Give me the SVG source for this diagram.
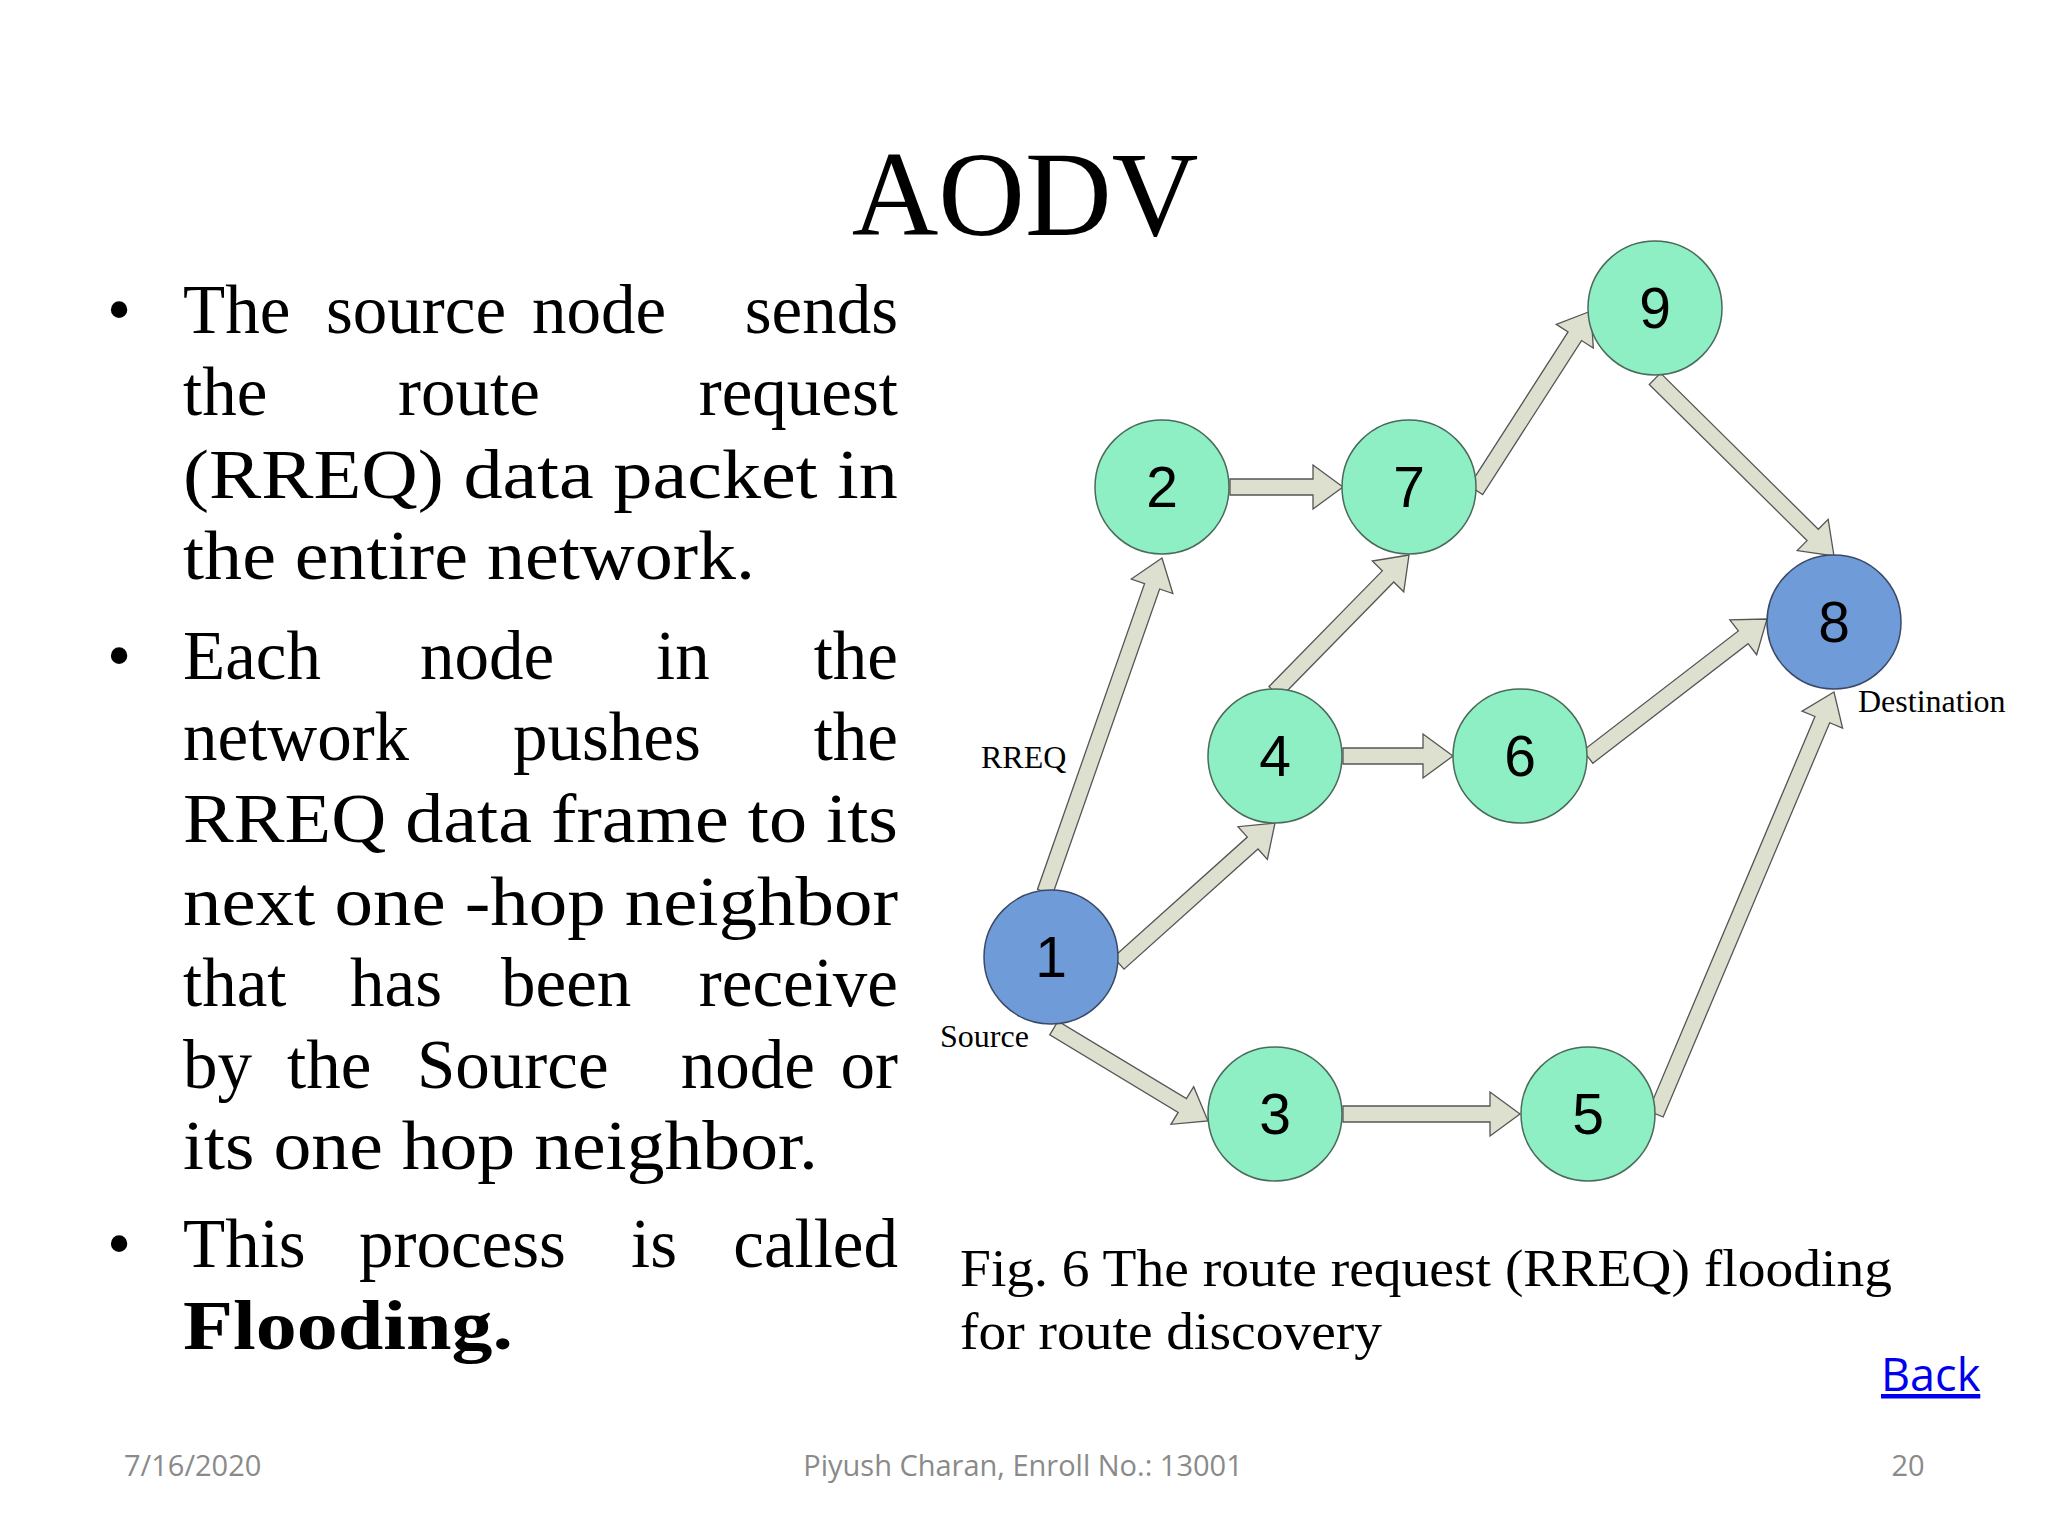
<svg xmlns="http://www.w3.org/2000/svg" width="2048" height="1536" viewBox="0 0 2048 1536">
<defs>
<style>
.s{font-family:"Liberation Serif",serif;fill:#000}
.b{font-size:69px}
.e{text-anchor:end}
.n{font-family:"Liberation Sans",sans-serif;font-size:57px;text-anchor:middle;fill:#000}
.g{fill:#8EEEC4;stroke:#4a6a5a;stroke-width:1.5}
.u{fill:#6F9BD9;stroke:#3a4a66;stroke-width:1.5}
.a{fill:#DDDFCF;stroke:#555;stroke-width:1.3}
.f{font-family:"Open Sans","Liberation Sans",sans-serif;font-size:29px;fill:#8a8a8a}
</style>
</defs>
<rect width="2048" height="1536" fill="#fff"/>
<text class="s" x="1025" y="235" font-size="120" text-anchor="middle">AODV</text>
<g class="s b">
<text x="107" y="333">•</text><text x="107" y="679">•</text><text x="107" y="1267">•</text>
<text x="183" y="333">The</text><text x="326" y="333">source</text><text x="532" y="333">node</text><text class="e" x="898" y="333">sends</text>
<text x="183" y="415">the</text><text x="398" y="415">route</text><text class="e" x="898" y="415">request</text>
<text x="183" y="498" textLength="715" lengthAdjust="spacingAndGlyphs">(RREQ) data packet in</text>
<text x="183" y="579" textLength="572" lengthAdjust="spacingAndGlyphs">the entire network.</text>
<text x="183" y="679">Each</text><text x="420" y="679">node</text><text x="656" y="679">in</text><text class="e" x="898" y="679">the</text>
<text x="183" y="760">network</text><text x="513" y="760">pushes</text><text class="e" x="898" y="760">the</text>
<text x="183" y="842" textLength="715" lengthAdjust="spacingAndGlyphs">RREQ data frame to its</text>
<text x="183" y="925" textLength="715" lengthAdjust="spacingAndGlyphs">next one -hop neighbor</text>
<text x="183" y="1006">that</text><text x="350" y="1006">has</text><text x="501" y="1006">been</text><text class="e" x="898" y="1006">receive</text>
<text x="183" y="1088">by</text><text x="287" y="1088">the</text><text x="417" y="1088">Source</text><text class="e" x="815" y="1088">node</text><text class="e" x="898" y="1088">or</text>
<text x="183" y="1169" textLength="635" lengthAdjust="spacingAndGlyphs">its one hop neighbor.</text>
<text x="183" y="1267">This</text><text x="359" y="1267">process</text><text x="631" y="1267">is</text><text class="e" x="898" y="1267">called</text>
<text x="183" y="1349" font-weight="bold" textLength="330" lengthAdjust="spacingAndGlyphs">Flooding.</text>
</g>
<g id="connectors">
<g transform="translate(1162,558) rotate(-70.7)"><polygon class="a" points="0,0 -30,-22 -30,-8 -354,-8 -354,8 -30,8 -30,22"/></g>
<g transform="translate(1343,487)"><polygon class="a" points="0,0 -30,-22 -30,-8 -113,-8 -113,8 -30,8 -30,22"/></g>
<g transform="translate(1275,823) rotate(-41.9)"><polygon class="a" points="0,0 -30,-22 -30,-8 -210,-8 -210,8 -30,8 -30,22"/></g>
<g transform="translate(1409,555) rotate(-45.6)"><polygon class="a" points="0,0 -30,-22 -30,-8 -192,-8 -192,8 -30,8 -30,22"/></g>
<g transform="translate(1453,756)"><polygon class="a" points="0,0 -30,-22 -30,-8 -110,-8 -110,8 -30,8 -30,22"/></g>
<g transform="translate(1591,311) rotate(-57.3)"><polygon class="a" points="0,0 -30,-22 -30,-8 -213,-8 -213,8 -30,8 -30,22"/></g>
<g transform="translate(1834,556) rotate(44.7)"><polygon class="a" points="0,0 -30,-22 -30,-8 -252,-8 -252,8 -30,8 -30,22"/></g>
<g transform="translate(1767,619) rotate(-37.6)"><polygon class="a" points="0,0 -30,-22 -30,-8 -226,-8 -226,8 -30,8 -30,22"/></g>
<g transform="translate(1208,1121) rotate(31.1)"><polygon class="a" points="0,0 -30,-22 -30,-8 -180,-8 -180,8 -30,8 -30,22"/></g>
<g transform="translate(1520,1114)"><polygon class="a" points="0,0 -30,-22 -30,-8 -177,-8 -177,8 -30,8 -30,22"/></g>
<g transform="translate(1834,692) rotate(-67.1)"><polygon class="a" points="0,0 -30,-22 -30,-8 -458,-8 -458,8 -30,8 -30,22"/></g>
</g>
<g id="n1"><circle class="u" cx="1051" cy="957" r="67"/><text class="n" x="1051" y="977">1</text></g>
<g id="n2"><circle class="g" cx="1162" cy="487" r="67"/><text class="n" x="1162" y="507">2</text></g>
<g id="n3"><circle class="g" cx="1275" cy="1114" r="67"/><text class="n" x="1275" y="1134">3</text></g>
<g id="n4"><circle class="g" cx="1275" cy="756" r="67"/><text class="n" x="1275" y="776">4</text></g>
<g id="n5"><circle class="g" cx="1588" cy="1114" r="67"/><text class="n" x="1588" y="1134">5</text></g>
<g id="n6"><circle class="g" cx="1520" cy="756" r="67"/><text class="n" x="1520" y="776">6</text></g>
<g id="n7"><circle class="g" cx="1409" cy="487" r="67"/><text class="n" x="1409" y="507">7</text></g>
<g id="n8"><circle class="u" cx="1834" cy="622" r="67"/><text class="n" x="1834" y="642">8</text></g>
<g id="n9"><circle class="g" cx="1655" cy="308" r="67"/><text class="n" x="1655" y="328">9</text></g>
<g class="s" font-size="32">
<text x="981" y="768">RREQ</text>
<text x="940" y="1047">Source</text>
<text x="1858" y="712">Destination</text>
</g>
<g class="s" font-size="52">
<text x="960" y="1286" textLength="932" lengthAdjust="spacingAndGlyphs">Fig. 6 The route request (RREQ) flooding</text>
<text x="960" y="1349" textLength="422" lengthAdjust="spacingAndGlyphs">for route discovery</text>
</g>
<text x="1881" y="1391" font-family="Open Sans, Liberation Sans, sans-serif" font-size="45" fill="#0000EE" text-decoration="underline">Back</text>
<text class="f" x="124" y="1476">7/16/2020</text>
<text class="f" x="1023" y="1476" text-anchor="middle">Piyush Charan, Enroll No.: 13001</text>
<text class="f" x="1908" y="1476" text-anchor="middle">20</text>
</svg>
